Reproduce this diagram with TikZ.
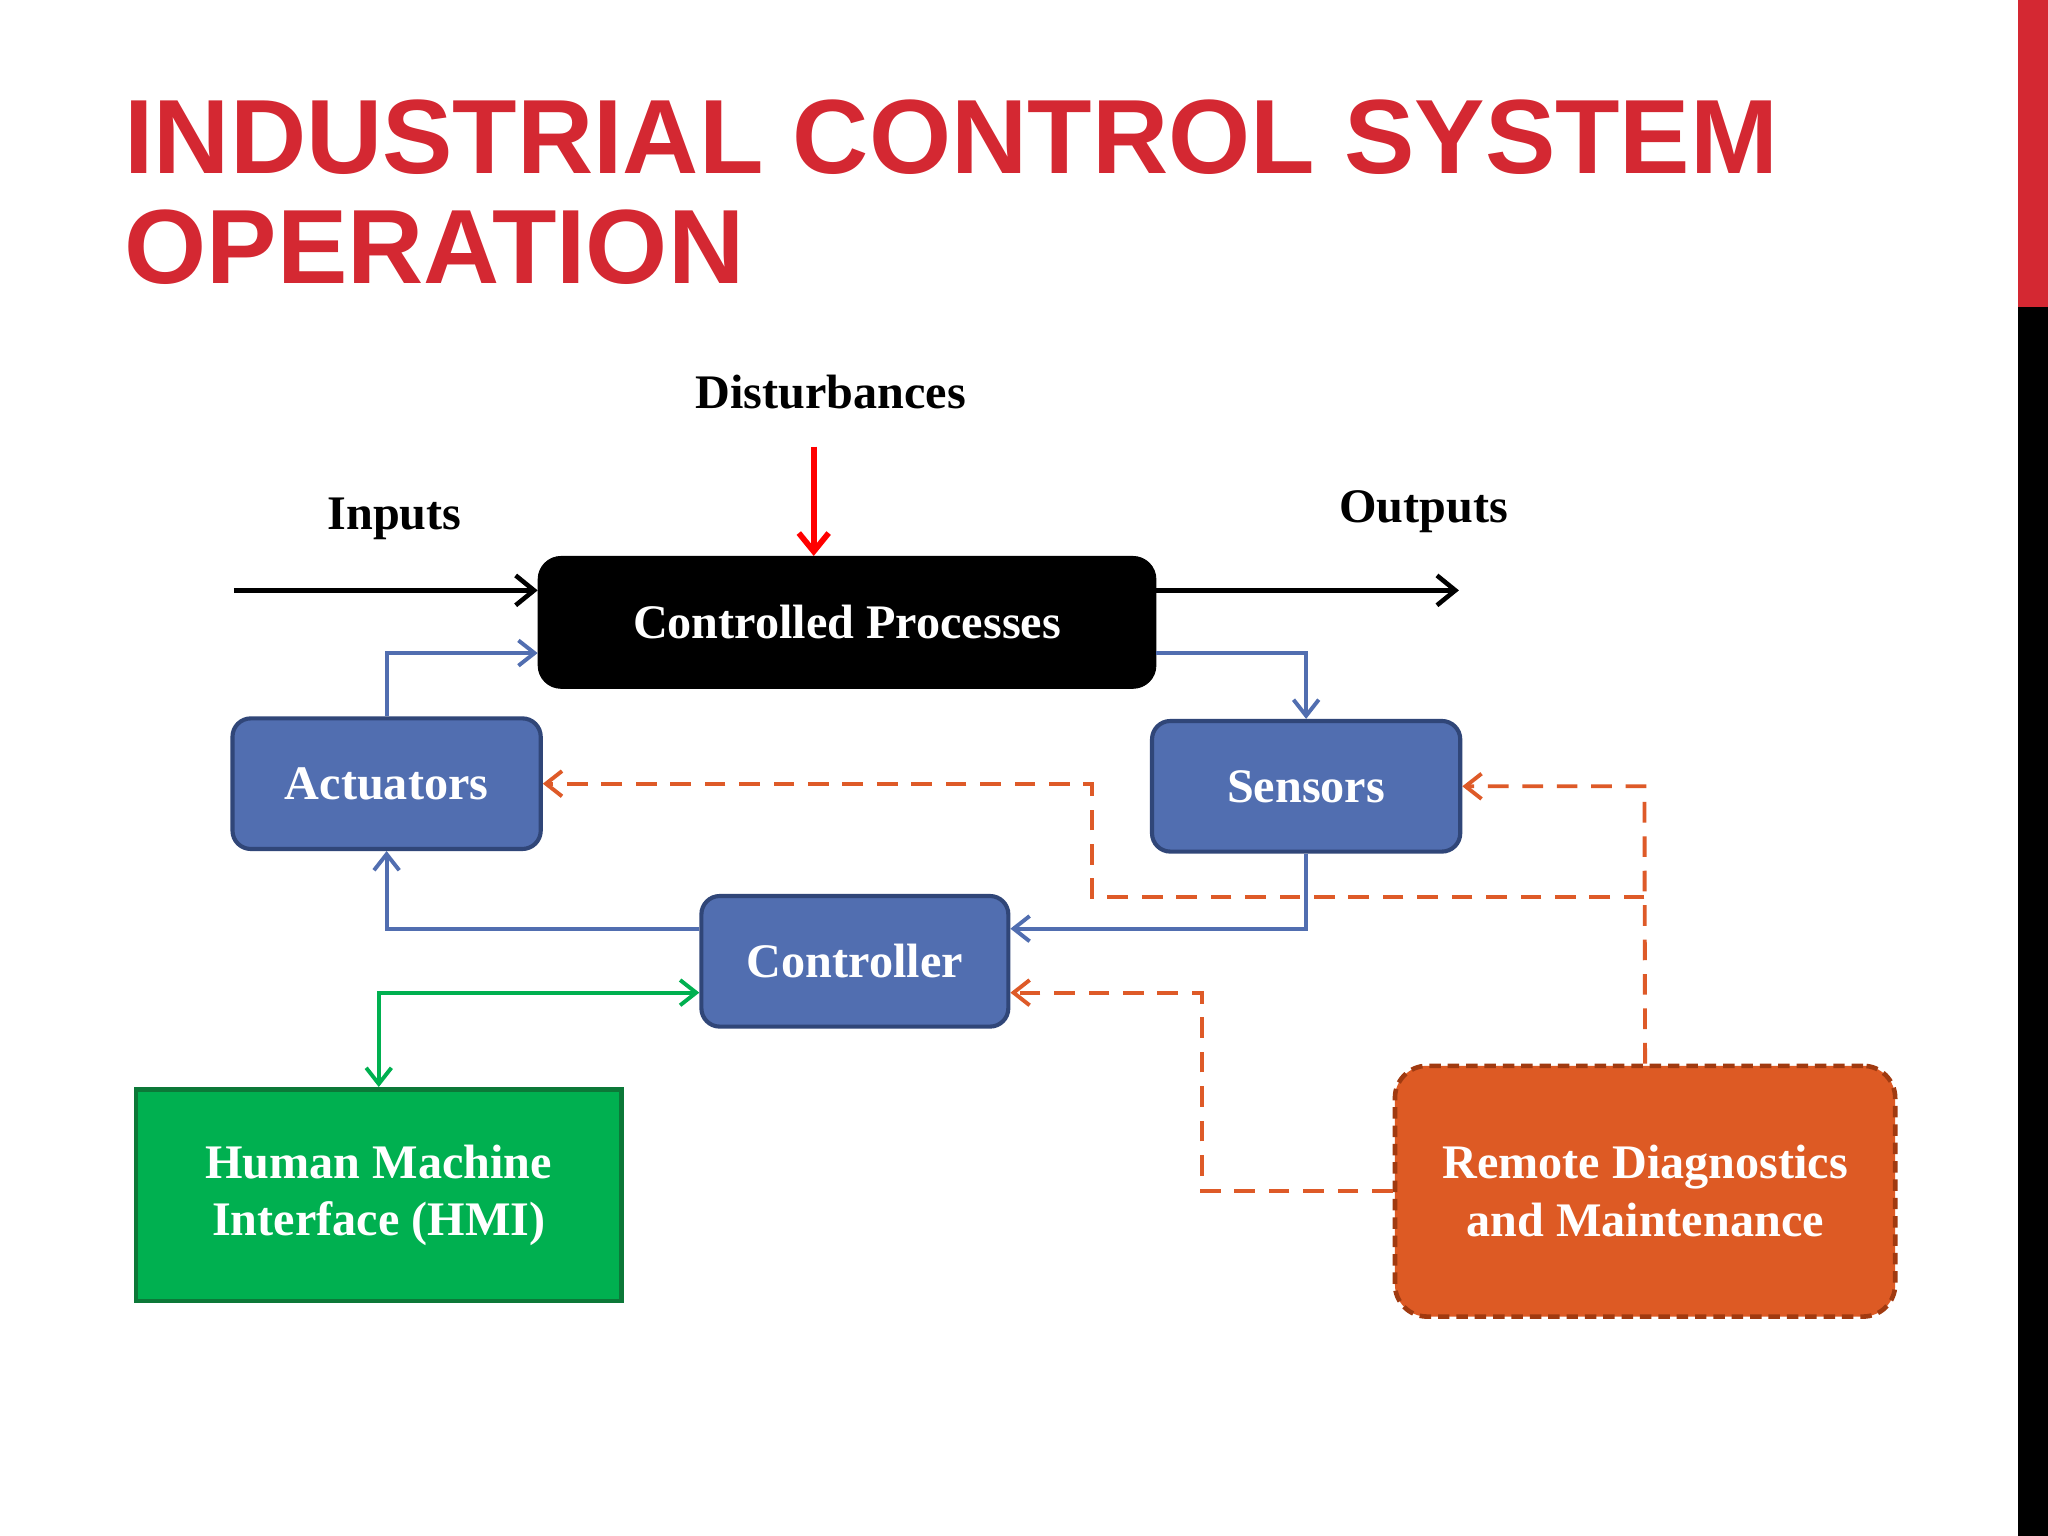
\documentclass[tikz,border=0pt]{standalone}
\usepackage{fontspec}
\setmainfont{Liberation Serif}
\newfontfamily\titlefont{Liberation Sans}
\usetikzlibrary{arrows.meta}
\definecolor{tred}{RGB}{212,40,50}
\definecolor{bfill}{RGB}{81,110,176}
\definecolor{bline}{RGB}{48,70,120}
\definecolor{gfill}{RGB}{0,176,80}
\definecolor{gline}{RGB}{12,120,56}
\definecolor{ofill}{RGB}{221,90,36}
\definecolor{oline}{RGB}{160,58,16}
\definecolor{odash}{RGB}{222,90,40}
\begin{document}
\begin{tikzpicture}[x=0.02cm,y=-0.02cm,
  lbl/.style={font=\fontsize{21}{25}\selectfont\bfseries},
  bbox/.style={draw=bline,line width=1.8pt,fill=bfill,rounded corners=8pt,text=white,font=\fontsize{21}{25}\selectfont\bfseries},
  bl/.style={draw=bfill,line width=1.7pt,-{Straight Barb[length=7pt,width=11pt]}},
  od/.style={draw=odash,line width=1.7pt,dash pattern=on 9pt off 6pt,-{Straight Barb[length=7pt,width=11pt]}},
  od0/.style={draw=odash,line width=1.7pt,dash pattern=on 9pt off 6pt}]
\useasboundingbox (0,0) rectangle (1568,1176);
\fill[white] (0,0) rectangle (1568,1176);
\fill[tred] (1545,0) rectangle (1568,235);
\fill[black] (1545,235) rectangle (1568,1176);
\node[anchor=base west,text=tred,font=\titlefont\fontsize{46}{50}\selectfont\bfseries,inner sep=0] (t1) at (95,133) {INDUSTRIAL CONTROL SYSTEM};
\node[anchor=base west,text=tred,font=\titlefont\fontsize{46}{50}\selectfont\bfseries,inner sep=0] (t2) at (95,217) {OPERATION};
% labels
\node[lbl] (dist) at (636,300) {Disturbances};
\node[lbl] (inp) at (302,397) {Inputs};
\node[lbl] (outp) at (1090,392) {Outputs};
% boxes
\node[draw=black,fill=black,rounded corners=10pt,text=white,font=\fontsize{21}{25}\selectfont\bfseries,minimum width=473*0.02cm,minimum height=101*0.02cm] (cp) at (648.5,476.5) {Controlled Processes};
\node[bbox,minimum width=236*0.02cm,minimum height=100*0.02cm] (act) at (296,600) {Actuators};
\node[bbox,minimum width=236*0.02cm,minimum height=100*0.02cm] (sen) at (1000,602) {Sensors};
\node[bbox,minimum width=235*0.02cm,minimum height=100*0.02cm] (con) at (654.5,736) {Controller};
\node[draw=gline,fill=gfill,line width=2pt,text=white,align=center,font=\fontsize{21}{25}\selectfont\bfseries,minimum width=372*0.02cm,minimum height=162*0.02cm] (hmi) at (290,915) {Human Machine\\Interface (HMI)};
\node[draw=oline,fill=ofill,line width=2pt,dash pattern=on 5pt off 3pt,rounded corners=14pt,text=white,align=center,font=\fontsize{21}{25}\selectfont\bfseries,minimum width=383*0.02cm,minimum height=192*0.02cm] (rem) at (1259.5,912) {Remote Diagnostics\\and Maintenance};
% coordinates
\coordinate (dtop) at (623,342);
\coordinate (instart) at (179,452);
\coordinate (outend) at (1117,452);
% black/red
\draw[red,line width=2.5pt,-{Straight Barb[length=8pt,width=13pt]}] (dtop) -- (dtop|-cp.north);
\draw[black,line width=2pt,-{Straight Barb[length=8pt,width=13pt]}] (instart) -- (instart-|cp.west);
\draw[black,line width=2pt,-{Straight Barb[length=8pt,width=13pt]}] (outend-|cp.east) -- (outend);
% blue
\draw[bl] (act.north) -- (296,500) -- (cp.west|-296,500);
\draw[bl] (cp.east|-0,500) -- (1000,500) -- (sen.north);
\draw[bl] (sen.south) -- (1000,711) -- (con.east|-0,711);
\draw[bl] (con.west|-0,711) -- (296,711) -- (act.south);
% green
\draw[draw=gfill,line width=1.7pt,{Straight Barb[length=7pt,width=11pt]}-{Straight Barb[length=7pt,width=11pt]}] (hmi.north) -- (290,760) -- (con.west|-0,760);
% orange dashed
\draw[od] (rem.north) -- (1259,602) -- (sen.east);
\draw[od] (1259,687) -- (836,687) -- (836,600) -- (act.east);
\draw[od] (rem.west) -- (920,912) -- (920,760) -- (con.east|-0,760);
\end{tikzpicture}
\end{document}
